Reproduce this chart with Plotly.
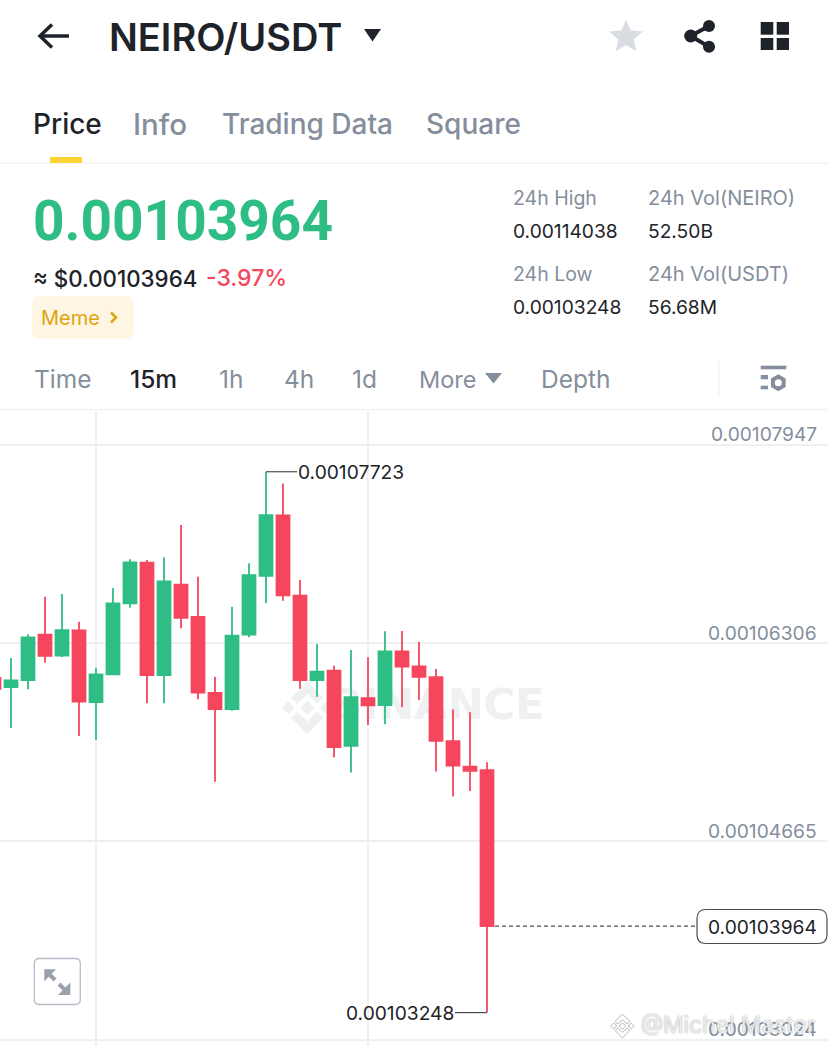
import math

import plotly.graph_objects as go

W = 828
H = 1046

# chart data
candle_index = list(range(30))
open_prices = [0.00106017, 0.00105942, 0.00106000, 0.00106375, 0.00106201, 0.00106411, 0.00105816, 0.00106047, 0.00106634, 0.00106970,
               0.00106041, 0.00106788, 0.00106521, 0.00105893, 0.00105760, 0.00106375, 0.00106862, 0.00107362, 0.00106697, 0.00106000,
               0.00106077, 0.00105454, 0.00105849, 0.00105793, 0.00106237, 0.00106113, 0.00106023, 0.00105494, 0.00105283, 0.00105254]
high_prices = [0.00106066, 0.00106182, 0.00106378, 0.00106689, 0.00106711, 0.00106482, 0.00106102, 0.00106761, 0.00106998, 0.00106992,
               0.00107014, 0.00107282, 0.00106854, 0.00106027, 0.00106606, 0.00106965, 0.00107723, 0.00107626, 0.00106827, 0.00106298,
               0.00106118, 0.00106248, 0.00106188, 0.00106403, 0.00106405, 0.00106314, 0.00106091, 0.00105758, 0.00105733, 0.00105320]
low_prices = [0.00105876, 0.00105603, 0.00105923, 0.00106143, 0.00106190, 0.00105537, 0.00105504, 0.00106040, 0.00106598, 0.00105807,
              0.00105807, 0.00106428, 0.00105841, 0.00105159, 0.00105746, 0.00106353, 0.00106634, 0.00106656, 0.00105928, 0.00105862,
              0.00105358, 0.00105234, 0.00105628, 0.00105634, 0.00105774, 0.00105835, 0.00105242, 0.00105035, 0.00105082, 0.00103248]
close_prices = [0.00105926, 0.00105996, 0.00106353, 0.00106199, 0.00106413, 0.00105821, 0.00106047, 0.00106634, 0.00106973, 0.00106041,
                0.00106816, 0.00106515, 0.00105895, 0.00105760, 0.00106366, 0.00106868, 0.00107364, 0.00106700, 0.00106000, 0.00106069,
                0.00105444, 0.00105857, 0.00105791, 0.00106237, 0.00106110, 0.00106025, 0.00105496, 0.00105292, 0.00105248, 0.00103964]
price_ticks = [0.00107947, 0.00106306, 0.00104665, 0.00103024]
price_labels = ["0.00107947", "0.00106306", "0.00104665", "0.00103024"]
time_grid = [6, 22]
high_label = "0.00107723"
low_label = "0.00103248"
last_label = "0.00103964"

DARK = "#1E2329"
GREY = "#848E9C"
GREEN = "#2EBD85"
RED = "#F6465D"
LINE = "#474D57"
RULE = "#EFF0F2"
MARK = "#EEF0F1"
FONT = "Inter"

# where the chart sits on the page
chart_top = 411
px_per_price = (1040 - 445) / (price_ticks[0] - price_ticks[3])
price_top = price_ticks[1] + (643 - chart_top) / px_per_price
price_bottom = price_ticks[1] - (H - 643) / px_per_price
candle_step = 17.0
x_range = [6 / candle_step, (W + 6) / candle_step]


def X(px):
    return px / W


def Y(py):
    return 1 - py / H


def poly(points, fill=None, line=None, width=0, closed=True):
    d = "M " + " L ".join(f"{X(a):.5f} {Y(b):.5f}" for a, b in points)
    if closed:
        d += " Z"
    return dict(type="path", xref="paper", yref="paper", path=d, fillcolor=fill or "rgba(0,0,0,0)",
                line=dict(color=line or "rgba(0,0,0,0)", width=width))


def rect(x0, y0, x1, y1, fill):
    return dict(type="rect", xref="paper", yref="paper", x0=X(x0), x1=X(x1), y0=Y(y0), y1=Y(y1),
                fillcolor=fill, line=dict(width=0))


def circle(cx, cy, r, fill):
    return dict(type="circle", xref="paper", yref="paper", x0=X(cx - r), x1=X(cx + r), y0=Y(cy - r), y1=Y(cy + r),
                fillcolor=fill, line=dict(width=0))


def seg(x0, y0, x1, y1, color, width):
    return dict(type="line", xref="paper", yref="paper", x0=X(x0), x1=X(x1), y0=Y(y0), y1=Y(y1),
                line=dict(color=color, width=width))


def round_box(x0, y0, x1, y1, r, fill, line=None, width=0):
    d = (f"M {X(x0 + r):.5f} {Y(y0):.5f} L {X(x1 - r):.5f} {Y(y0):.5f} Q {X(x1):.5f} {Y(y0):.5f} {X(x1):.5f} {Y(y0 + r):.5f} "
         f"L {X(x1):.5f} {Y(y1 - r):.5f} Q {X(x1):.5f} {Y(y1):.5f} {X(x1 - r):.5f} {Y(y1):.5f} "
         f"L {X(x0 + r):.5f} {Y(y1):.5f} Q {X(x0):.5f} {Y(y1):.5f} {X(x0):.5f} {Y(y1 - r):.5f} "
         f"L {X(x0):.5f} {Y(y0 + r):.5f} Q {X(x0):.5f} {Y(y0):.5f} {X(x0 + r):.5f} {Y(y0):.5f} Z")
    return dict(type="path", xref="paper", yref="paper", path=d, fillcolor=fill,
                line=dict(color=line or "rgba(0,0,0,0)", width=width))


def label(text, px, py, size, color=DARK, weight=400, anchor="left", family=FONT, **font_extra):
    # glyphs sit a little right of the anchor, pull left aligned text back
    if anchor == "left":
        px -= 1.5
    return dict(text=text, xref="paper", yref="paper", x=X(px), y=Y(py), xanchor=anchor, yanchor="middle",
                showarrow=False, borderpad=0, font=dict(family=family, size=size, color=color, weight=weight, **font_extra))


def logo(cx, cy, s, fill, line=None, width=0, layer="below"):
    parts = []
    for sign in (-1, 1):
        chevron = [(0, -26), (16, -10), (10, -4), (0, -14), (-10, -4), (-16, -10)]
        parts.append(poly([(cx + a * s, cy + sign * b * s) for a, b in chevron], fill, line, width))
        parts.append(poly([(cx + sign * (19 + a) * s, cy + b * s) for a, b in [(0, -6.5), (6.5, 0), (0, 6.5), (-6.5, 0)]], fill, line, width))
    parts.append(poly([(cx + a * s, cy + b * s) for a, b in [(0, -7), (7, 0), (0, 7), (-7, 0)]], fill, line, width))
    for p in parts:
        p["layer"] = layer
    return parts


fig = go.Figure()

# watermark sits on the base axes so the candles draw over it
fig.add_trace(go.Scatter(
    x=[(437 + 6) / candle_step],
    y=[price_ticks[1] - (708 - 643) / px_per_price],
    mode="text",
    text=["BINANCE"],
    textposition="middle center",
    textfont=dict(family="DejaVu Sans", size=43, color=MARK, weight=700),
    hoverinfo="skip",
))

fig.add_trace(go.Candlestick(
    x=candle_index,
    open=open_prices,
    high=high_prices,
    low=low_prices,
    close=close_prices,
    xaxis="x2",
    yaxis="y2",
    whiskerwidth=0,
    increasing=dict(line=dict(color=GREEN, width=1.8), fillcolor=GREEN),
    decreasing=dict(line=dict(color=RED, width=1.8), fillcolor=RED),
))

shapes = []
shapes += logo(307.3, 707.7, 1.0, MARK)

# header chrome
shapes += [
    seg(40, 36, 69, 36, DARK, 3.5),
    poly([(52, 24.5), (40, 36), (52, 47.5)], None, DARK, 3.5, closed=False),
    poly([(364, 29), (381, 29), (372.5, 41.5)], DARK),
    rect(0, 162.5, W, 163.5, "#EDEEF0"),
    rect(50, 157, 82, 163, "#FCD535"),
    rect(0, 409, W, 410, "#EDEEF0"),
    rect(718.5, 361, 719.5, 395, "#EDEEF0"),
    round_box(32, 296, 134, 339, 9, "#FEF6E2"),
    poly([(111, 312.5), (116, 317.5), (111, 322.5)], None, "#DDA50F", 2.5, closed=False),
    poly([(485, 373), (502, 373), (493.5, 383.5)], GREY),
]

star = []
for k in range(10):
    r = 15 if k % 2 == 0 else 7
    a = -math.pi / 2 + k * math.pi / 5
    star.append((626 + r * math.cos(a), 37 + r * math.sin(a)))
shapes.append(poly(star, "#D9DDE2", "#D9DDE2", 2))

shapes += [
    seg(709, 26, 690.7, 36, DARK, 4),
    seg(709, 46.7, 690.7, 36, DARK, 4),
    circle(709, 26, 6, DARK),
    circle(709, 46.7, 6, DARK),
    circle(690.7, 36, 6.5, DARK),
    rect(760.7, 22, 773.3, 34.7, DARK),
    rect(776.7, 22, 789, 34.7, DARK),
    rect(760.7, 38, 773.3, 50, DARK),
    rect(776.7, 38, 789, 50, DARK),
]

# chart settings icon
hexagon = [(778.3 + 8.5 * math.cos(math.pi / 6 + k * math.pi / 3), 382.7 + 8.5 * math.sin(math.pi / 6 + k * math.pi / 3)) for k in range(6)]
shapes += [
    rect(760.7, 365.7, 786.3, 369.3, GREY),
    rect(760.7, 375, 768, 379.3, GREY),
    rect(760.7, 385.7, 768, 389.3, GREY),
    poly(hexagon, GREY),
    circle(778.3, 382.7, 3.5, "white"),
]

# leader lines for the high, low and last prices
hi_i = high_prices.index(max(high_prices))
lo_i = low_prices.index(min(low_prices))
last_i = candle_index[-1]
shapes += [
    dict(type="line", xref="x", yref="y", x0=hi_i, x1=hi_i + 31 / candle_step, y0=max(high_prices), y1=max(high_prices),
         line=dict(color=LINE, width=1.2)),
    dict(type="line", xref="x", yref="y", x0=lo_i - 32 / candle_step, x1=lo_i, y0=min(low_prices), y1=min(low_prices),
         line=dict(color=LINE, width=1.2)),
    dict(type="line", xref="x", yref="y", x0=last_i + 8 / candle_step, x1=last_i + 209 / candle_step,
         y0=close_prices[-1], y1=close_prices[-1], line=dict(color=LINE, width=1.3, dash="4px,3px")),
    round_box(697, 909.5, 827, 943.5, 9, "white", LINE, 1.2),
]

# expand button
shapes += [
    round_box(34.3, 958.5, 80.3, 1004.5, 5, "white", "#B7BDC6", 1.3),
    poly([(44.3, 969.3), (56, 969.3), (44.3, 981.5)], "#9AA1AD"),
    poly([(70.3, 995), (58, 995), (70.3, 982.5)], "#9AA1AD"),
    seg(49, 974, 55, 980, "#9AA1AD", 4),
    seg(59, 984, 65, 990, "#9AA1AD", 4),
]

shapes += logo(622.5, 1026, 0.46, "rgba(255,255,255,0.8)", "#B4B9C0", 1, layer="above")

annotations = [
    label("NEIRO/USDT", 109, 36.5, 38, weight=600),
    label("Price", 33, 124, 28, weight=500),
    label("Info", 133, 124, 29.5, GREY, 500),
    label("Trading Data", 222, 124, 28, GREY, 500),
    label("Square", 427, 124, 28, GREY, 500),
    label("0.00103964", 33, 221, 55, GREEN, 700, family="Roboto"),
    label("≈ $0.00103964", 33, 278, 22.3, weight=500),
    label("-3.97%", 206, 278, 23, RED, 500),
    label("Meme", 41, 318, 20, "#DDA50F"),
    label("24h High", 513, 198, 19.5, GREY),
    label("0.00114038", 513, 231, 19.2),
    label("24h Low", 513, 274, 19.5, GREY),
    label("0.00103248", 513, 307, 19.2),
    label("24h Vol(NEIRO)", 648, 198, 20, GREY),
    label("52.50B", 648, 231, 19.2),
    label("24h Vol(USDT)", 648, 274, 20, GREY),
    label("56.68M", 648, 307, 19.2),
    label("Time", 34, 379, 24.5, GREY),
    label("15m", 130, 379, 24.5, DARK, 500),
    label("1h", 219, 379, 24.5, GREY),
    label("4h", 284, 379, 24.5, GREY),
    label("1d", 352, 379, 24.5, GREY),
    label("More", 419, 379, 23.5, GREY),
    label("Depth", 541, 379, 24.5, GREY),
    dict(text=high_label, xref="x", yref="y", x=hi_i + 31 / candle_step, y=max(high_prices), xanchor="left", yanchor="middle",
         showarrow=False, borderpad=0, font=dict(family=FONT, size=19.2, color=DARK)),
    dict(text=low_label, xref="x", yref="y", x=lo_i - 32 / candle_step, y=min(low_prices), xanchor="right", yanchor="middle",
         showarrow=False, borderpad=0, font=dict(family=FONT, size=19.2, color=DARK)),
    label(last_label, 818, 927, 19.2, anchor="right"),
]

# price labels float just above their gridlines, inside the plot
for tick, text in zip(price_ticks, price_labels):
    annotations.append(dict(text=text, xref="paper", yref="y", x=X(818), y=tick, xanchor="right", yanchor="middle",
                            yshift=10.5, showarrow=False, borderpad=0, font=dict(family=FONT, size=19.2, color=GREY)))

# the photo's watermark lies over the bottom price label
annotations.append(label("@Michel Master", 641, 1024, 22.8, "rgba(255,255,255,0.8)", family="Inter", shadow="0 0 1.5px #6f747c"))

fig.update_layout(
    width=W,
    height=H,
    autosize=False,
    margin=dict(l=0, r=0, t=0, b=0),
    paper_bgcolor="white",
    plot_bgcolor="white",
    showlegend=False,
    boxgap=0.24,
    boxgroupgap=0,
    shapes=shapes,
    annotations=annotations,
    xaxis=dict(domain=[0, 1], range=x_range, tickvals=time_grid, showticklabels=False, ticks="", zeroline=False,
               showgrid=True, gridcolor=RULE, gridwidth=1.5, fixedrange=True),
    yaxis=dict(domain=[0, 1 - chart_top / H], range=[price_bottom, price_top], side="right", tickmode="array",
               tickvals=price_ticks, ticktext=price_labels, showticklabels=False, ticks="", showgrid=True,
               gridcolor=RULE, gridwidth=1.5, zeroline=False, fixedrange=True),
    xaxis2=dict(overlaying="x", anchor="y2", range=x_range, visible=False, rangeslider=dict(visible=False), fixedrange=True),
    yaxis2=dict(overlaying="y", anchor="x2", range=[price_bottom, price_top], visible=False, fixedrange=True),
)

# the page's default body margin would push the figure 8px in
fig.write_html("out.html", config=dict(displayModeBar=False), post_script="document.body.style.margin='0';")
